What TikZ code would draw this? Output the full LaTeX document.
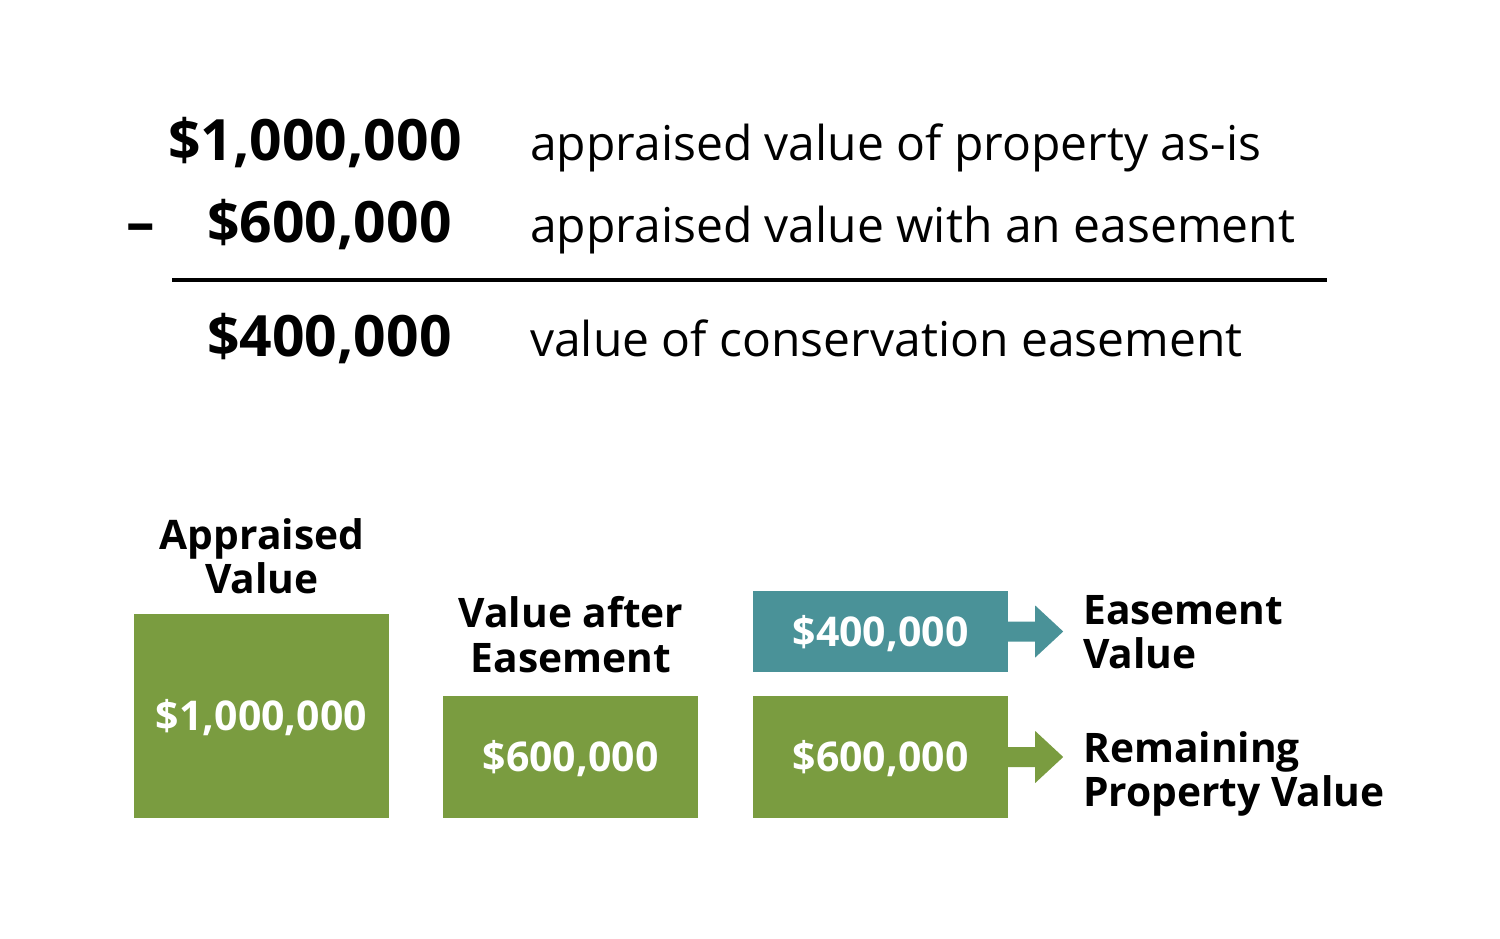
\documentclass[tikz,border=0pt]{standalone}
\usepackage{fontspec}
\setmainfont{Open Sans}
\usetikzlibrary{calc}
\definecolor{boxgreen}{HTML}{7A9C40}
\definecolor{boxteal}{HTML}{4A9298}
\begin{document}
\begin{tikzpicture}[x=1pt,y=-1pt,
  bignum/.style={anchor=base west,inner sep=0,font=\fontsize{57}{62}\selectfont\bfseries},
  desc/.style={anchor=base west,inner sep=0,font=\fontsize{48}{52}\selectfont},
  lbl/.style={inner sep=0,font=\fontsize{40.7}{44}\selectfont\bfseries},
  valbox/.style={draw=none,inner sep=0,minimum width=255,text height=36pt,text depth=7pt,font=\fontsize{41}{46}\selectfont\bfseries,text=white}]
\path[use as bounding box] (0,0) rectangle (1500,938);
% equation
\node[bignum] (n1) at (168,160) {\$1,000,000};
\node[bignum] (minus) at (126,242) {–};
\node[bignum] (n2) at (207,242) {\$600,000};
\node[bignum] (n3) at (207,356) {\$400,000};
\node[desc] (d1) at (530,160) {appraised value of property as-is};
\node[desc] (d2) at (530,242) {appraised value with an easement};
\node[desc] (d3) at (530,356) {value of conservation easement};
\coordinate (ruleL) at (172,280);
\coordinate (ruleR) at (1327,280);
\draw[line width=4] (ruleL) -- (ruleR);
% boxes
\node[valbox,fill=boxgreen,minimum height=204] (b1) at (261.5,716) {\$1,000,000};
\node[valbox,fill=boxgreen,minimum height=122] (b2) at (570.5,757) {\$600,000};
\node[valbox,fill=boxteal,minimum height=81] (b3) at (880.5,631.5) {\$400,000};
\node[valbox,fill=boxgreen,minimum height=122] (b4) at (880.5,757) {\$600,000};
% labels above boxes
\node[lbl,anchor=base] (la1) at (262,549) {Appraised};
\node[lbl,anchor=base] (la2) at (262,593) {Value};
\node[lbl,anchor=base] (lb1) at (571,627) {Value after};
\node[lbl,anchor=base] (lb2) at (571,672) {Easement};
% right labels
\node[lbl,anchor=base west] (lc1) at (1083,624) {Easement};
\node[lbl,anchor=base west] (lc2) at (1083,668) {Value};
\node[lbl,anchor=base west] (ld1) at (1083,762) {Remaining};
\node[lbl,anchor=base west] (ld2) at (1083,806) {Property Value};
% block arrows
\foreach \b/\c in {b3/boxteal,b4/boxgreen}{
  \fill[\c] ($(\b.east)+(-1,-10)$) -- ($(\b.east)+(27,-10)$) -- ($(\b.east)+(27,-26)$)
    -- ($(\b.east)+(55,0)$) -- ($(\b.east)+(27,26)$) -- ($(\b.east)+(27,10)$)
    -- ($(\b.east)+(-1,10)$) -- cycle;
}
\end{tikzpicture}
\end{document}
